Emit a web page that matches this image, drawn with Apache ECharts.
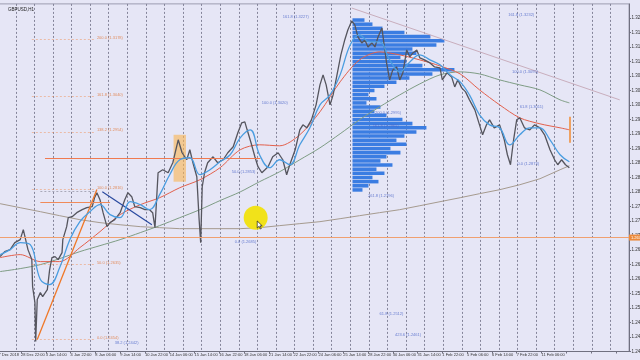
<!DOCTYPE html>
<html><head><meta charset="utf-8">
<script src="https://cdn.jsdelivr.net/npm/echarts@6/dist/echarts.min.js"></script>
<style>html,body{margin:0;padding:0;background:#e6e6f6}#c{width:640px;height:360px}</style>
</head><body><div id="c"></div>
<script>
// time axis = H1 bar index (0 = 28 Dec 22:00)
const tickLabels = ["27 Dec 2018","28 Dec 22:00","3 Jan 14:00","4 Jan 22:00","8 Jan 06:00","9 Jan 14:00","10 Jan 22:00","14 Jan 06:00","15 Jan 14:00","16 Jan 22:00","18 Jan 06:00","21 Jan 14:00","22 Jan 22:00","24 Jan 06:00","25 Jan 14:00","28 Jan 22:00","30 Jan 06:00","31 Jan 14:00","1 Feb 22:00","5 Feb 06:00","6 Feb 14:00","7 Feb 22:00","11 Feb 06:00"];

const priceBars = [-27,-21,-14,-8,-1,3,5,9,14,15,18,19,21,25,28,34,37,40,44,48,53,54,59,61,66,72,79,85,92,95,98,102,106,111,115,121,128,134,138,143,147,154,160,166,170,173,176,177,183,190,196,203,208,214,218,222,227,230,232,234,237,241,248,254,261,267,274,280,285,289,292,297,302,306,311,315,319,325,332,338,343,347,354,360,364,369,375,381,386,390,394,399,403,408,413,418,422,427,431,435,440,444,448,453,457,461,466,468,472,476,480,485,489,493,498,502,506,511,515,521,528,534,541,544,550,556,560,564,569,574,579,586,592,596,601,605,611,618,624,628,632,636,640,644,650,657,663,670,676,683,689,693,698,703,708];
const priceVals = [1.26540,1.26661,1.26709,1.26878,1.26950,1.27191,1.27143,1.26709,1.26468,1.25817,1.25431,1.24492,1.25504,1.25671,1.25576,1.25744,1.26227,1.26516,1.26540,1.26468,1.26637,1.26950,1.27263,1.27480,1.27504,1.27601,1.27673,1.27721,1.27745,1.27962,1.28083,1.27914,1.27601,1.27263,1.27360,1.27432,1.27601,1.27914,1.28083,1.27987,1.27745,1.27721,1.27673,1.27673,1.27601,1.27239,1.28227,1.28565,1.28637,1.28565,1.28806,1.29360,1.29047,1.28878,1.29119,1.28806,1.28469,1.27432,1.26878,1.28227,1.28565,1.28806,1.28950,1.28806,1.28878,1.29047,1.29191,1.29529,1.29770,1.29794,1.29601,1.29288,1.28950,1.28710,1.28565,1.28637,1.28710,1.28950,1.29047,1.28878,1.28517,1.28758,1.29119,1.29601,1.29721,1.29649,1.29842,1.30203,1.30685,1.30927,1.30685,1.30203,1.30444,1.30927,1.31409,1.31770,1.32011,1.32228,1.32132,1.31842,1.31698,1.31770,1.31601,1.31698,1.31601,1.31842,1.32059,1.31770,1.31216,1.30806,1.31047,1.31119,1.30806,1.30975,1.31529,1.31360,1.31457,1.31529,1.31336,1.31288,1.31216,1.31119,1.31095,1.30806,1.30975,1.30878,1.30637,1.30806,1.30613,1.30517,1.30324,1.30083,1.29721,1.29481,1.29721,1.29842,1.29649,1.29721,1.29360,1.28999,1.28758,1.29360,1.29842,1.29890,1.29649,1.29601,1.29721,1.29649,1.29481,1.29119,1.28878,1.28758,1.28878,1.28758,1.28686];

const fastBars = [-27,-14,-1,12,25,37,50,63,76,89,102,115,128,141,154,166,179,192,205,218,231,244,257,270,283,296,308,321,334,347,360,373,386,399,412,425,437,450,463,476,489,502,515,528,541,554,567,579,592,605,618,631,644,657,670,683,696,708];
const fastMA = [1.26589,1.26709,1.26878,1.26830,1.25986,1.25865,1.26275,1.26950,1.27384,1.27625,1.27793,1.27553,1.27480,1.27866,1.27793,1.27673,1.28035,1.28517,1.28878,1.28926,1.28517,1.28637,1.28830,1.28999,1.29408,1.29601,1.28999,1.28686,1.28878,1.28758,1.29239,1.29649,1.30203,1.30444,1.30927,1.31649,1.31891,1.31722,1.31722,1.31288,1.30999,1.31240,1.31409,1.31288,1.31169,1.30927,1.30758,1.30444,1.29963,1.29721,1.29649,1.29239,1.29481,1.29649,1.29649,1.29360,1.28999,1.28830];

const slowBars = [-27,-1,25,50,76,102,128,154,179,205,231,257,283,308,334,360,386,412,437,463,489,515,541,567,592,618,644,670,696,708];
const redMA = [1.26516,1.26589,1.26420,1.26420,1.26757,1.27143,1.27553,1.27793,1.27962,1.28203,1.28396,1.28686,1.29119,1.29239,1.29215,1.29481,1.30035,1.30758,1.31288,1.31481,1.31409,1.31288,1.31143,1.30950,1.30565,1.30203,1.29890,1.29746,1.29649,1.29601];
const greenMA = [1.26179,1.26251,1.26347,1.26492,1.26661,1.26805,1.26950,1.27119,1.27288,1.27480,1.27673,1.27893,1.28102,1.28348,1.28589,1.28878,1.29166,1.29505,1.29842,1.30155,1.30444,1.30710,1.30927,1.30999,1.30950,1.30806,1.30685,1.30565,1.30324,1.30251];
const longMA = [1.27818,1.27721,1.27625,1.27528,1.27432,1.27360,1.27309,1.27263,1.27239,1.27215,1.27215,1.27215,1.27215,1.27239,1.27288,1.27336,1.27384,1.27456,1.27528,1.27601,1.27673,1.27769,1.27866,1.27962,1.28059,1.28155,1.28275,1.28420,1.28637,1.28734];

// volume profile (bin top price, volume)
const profileStartBar = 428;
const profileLevels = [1.3230,1.3220,1.3210,1.3200,1.3190,1.3180,1.3170,1.3160,1.3150,1.3140,1.3130,1.3120,1.3110,1.3100,1.3090,1.3080,1.3070,1.3060,1.3050,1.3040,1.3030,1.3020,1.3010,1.3000,1.2990,1.2980,1.2970,1.2960,1.2950,1.2940,1.2930,1.2920,1.2910,1.2900,1.2890,1.2880,1.2870,1.2860,1.2850,1.2840,1.2830,1.2820];
const profileVolumes = [12,20,30,52,78,92,84,60,64,48,54,70,102,80,57,44,32,22,16,24,14,28,22,34,50,60,74,64,52,44,54,38,48,34,28,40,24,32,20,26,16,10];

// Fibonacci labels
const fibOrangeBar = 98;
const fibOrangeLevels = [1.3178,1.3040,1.2954,1.2816,1.2635,1.2454];
const fibOrangeText = ["200.0 (1.3178)","161.8 (1.3040)","138.2 (1.2954)","100.0 (1.2816)","50.0 (1.2635)","0.0 (1.2454)"];
const fibBlueBars = [338,311,272,276,629,634,644,641,448,457,454,463,483,121];
const fibBlueLevels = [1.3227,1.3020,1.2853,1.2685,1.3232,1.3095,1.3011,1.2873,1.2796,1.2995,1.2965,1.2512,1.2461,1.2442];
const fibBlueText = ["161.8 (1.3227)","100.0 (1.3020)","50.0 (1.2853)","0.0 (1.2685)","161.8 (1.3232)","100.0 (1.3095)","61.8 (1.3011)","0.0 (1.2873)","261.8 (1.2796)","200.0 (1.2995)","161.8 (1.2965)","61.8 (1.2512)","423.6 (1.2461)","38.2 (1.2442)"];

const bidPrice = 1.28686;
const alertPrice = 1.26734;

const pair = (xs, ys) => xs.map((x, i) => [x, ys[i]]);
const FONT = 'Liberation Sans';

const chart = echarts.init(document.getElementById('c'), null, {renderer: 'canvas'});

const trendLines = [
  [{coord:[21,1.2454], lineStyle:{color:'#f07828',width:1.3,type:'solid'}}, {coord:[98,1.2816]}],
  [{coord:[105,1.28107], lineStyle:{color:'#2a4aa0',width:1.2,type:'solid'}}, {coord:[169,1.27309]}],
  [{coord:[427,1.32541], lineStyle:{color:'#c9aebd',width:1,type:'solid'}}, {coord:[773,1.30324]}],
  [{coord:[31,1.2892], lineStyle:{color:'#f07a50',width:1,type:'solid'}}, {coord:[309,1.2892]}],
  [{coord:[25,1.27842], lineStyle:{color:'#f08a5a',width:1,type:'solid'}}, {coord:[115,1.27842]}],
  [{coord:[25,1.28107], lineStyle:{color:'#9a9aaa',width:0.8,type:[2,2]}}, {coord:[96,1.28107]}],
  [{coord:[708,1.29914], lineStyle:{color:'#f08a30',width:1.5,type:'solid'}}, {coord:[708,1.29288]}]
].concat(fibOrangeLevels.map(l => [{coord:[14,l], lineStyle:{color:'rgba(240,140,80,0.6)',width:0.8,type:[2,2]}}, {coord:[96,l]}]));

const option = {
  animation: false,
  backgroundColor: '#e6e6f6',
  textStyle: {fontFamily: FONT},
  title: {text: 'GBPUSD,H1', left: 3, top: 2, textStyle: {fontSize: 4.5, color: '#222', fontWeight: 'normal', fontFamily: FONT}},
  grid: [
    {left: -3.8, right: 11, top: 3.9, bottom: 8.5, containLabel: false, outerBoundsMode: 'none',
     show: true, borderColor: '#8a8aa0', borderWidth: 0.8, backgroundColor: 'transparent'},
    {left: -2.77, right: 11, top: 3.9, bottom: 8.5, containLabel: false, outerBoundsMode: 'none'}
  ],
  xAxis: [
    {type: 'value', gridIndex: 0, min: -32, max: 785, interval: 32,
     axisLine: {show: true, onZero: false, lineStyle: {color: '#707080'}},
     axisTick: {show: true, length: 2, lineStyle: {color: '#707080'}},
     axisLabel: {fontSize: 4, color: '#333', margin: 1.5, align: 'left', showMaxLabel: false,
       formatter: v => { const i = Math.round((v + 32) / 32); return tickLabels[i] || ''; }},
     splitLine: {show: false}},
    {type: 'value', gridIndex: 1, min: 0, max: 816, interval: 24,
     axisLine: {show: false, onZero: false}, axisTick: {show: false}, axisLabel: {show: false},
     splitLine: {show: true, lineStyle: {color: '#84849a', width: 1, type: [2, 2]}}}
  ],
  yAxis: [
    {type: 'value', gridIndex: 0, position: 'right', min: 1.2425, max: 1.3264, interval: 0.0035,
     axisLine: {show: true, onZero: false, lineStyle: {color: '#707080'}},
     axisTick: {show: true, length: 2, lineStyle: {color: '#707080'}},
     axisLabel: {fontSize: 4.5, color: '#333', margin: 2.5, showMaxLabel: false, formatter: v => v.toFixed(5)},
     splitLine: {show: false}},
    {type: 'value', gridIndex: 1, min: 0, max: 1, show: false}
  ],
  series: [
    {type: 'custom', name: 'profile', z: 1, xAxisIndex: 0, yAxisIndex: 0,
     data: profileLevels.map((p, i) => [profileStartBar, p, profileVolumes[i]]),
     encode: {x: 0, y: 1},
     renderItem: (params, api) => {
       const b = api.value(0), p = api.value(1), v = api.value(2);
       const s = api.coord([b, p]);
       const e = api.coord([b + v * 1.29, p - 0.001]);
       return {type: 'rect', shape: {x: s[0], y: s[1] + 0.3, width: e[0] - s[0], height: e[1] - s[1] - 0.6},
               style: {fill: '#3b7de2'}};
     }},
    {type: 'line', name: 'MA long', data: pair(slowBars, longMA), showSymbol: false, symbol: 'none', z: 2,
     lineStyle: {color: '#a59a8e', width: 1}},
    {type: 'line', name: 'MA green', data: pair(slowBars, greenMA), showSymbol: false, symbol: 'none', smooth: 0.3, z: 2,
     lineStyle: {color: '#7e9c84', width: 1}},
    {type: 'line', name: 'MA red', data: pair(slowBars, redMA), showSymbol: false, symbol: 'none', smooth: 0.3, z: 3,
     lineStyle: {color: '#e2604c', width: 1}},
    {type: 'line', name: 'price', data: pair(priceBars, priceVals), showSymbol: false, symbol: 'none', z: 4,
     lineStyle: {color: '#55555e', width: 1.3},
     markLine: {silent: true, symbol: 'none', animation: false,
       data: [
         {yAxis: alertPrice, lineStyle: {color: '#f0a070', width: 1, type: 'solid'},
          label: {show: true, position: 'end', distance: 0, formatter: alertPrice.toFixed(5), fontSize: 4, color: '#fff', backgroundColor: '#ec8a3c', padding: [1, 2]}},
         {yAxis: bidPrice, lineStyle: {opacity: 0},
          label: {show: true, position: 'end', distance: 0, formatter: bidPrice.toFixed(5), fontSize: 4, color: '#fff', backgroundColor: '#000', padding: [1, 2]}}
       ]},
     markArea: {silent: true, itemStyle: {color: 'rgba(250,180,80,0.6)'},
       data: [[{coord: [197, 1.29481]}, {coord: [213, 1.28348]}]]}},
    {type: 'line', name: 'MA fast', data: pair(fastBars, fastMA), showSymbol: false, symbol: 'none', smooth: 0.4, z: 5,
     lineStyle: {color: '#4a9de0', width: 1.3}},
    {type: 'scatter', name: 'fibOrange', z: 6, symbolSize: 0,
     data: fibOrangeLevels.map((l, i) => [fibOrangeBar, l, fibOrangeText[i]]),
     label: {show: true, position: 'right', distance: 0, offset: [0, -2], fontSize: 4, color: '#e2783a', formatter: p => p.data[2]},
     markLine: {silent: true, symbol: ['none', 'none'], label: {show: false}, data: trendLines},
     markPoint: {silent: true, data: [
       {coord: [303, 1.27480], symbol: 'circle', symbolSize: 24, itemStyle: {color: '#f1e21a'}, label: {show: false}},
       {coord: [305, 1.27400], symbol: 'path://M0,0 L0,16 L4,12 L7,18 L9,17 L6,11 L11,11 Z', symbolSize: [5, 8], symbolOffset: [2.5, 4],
        itemStyle: {color: '#fff', borderColor: '#000', borderWidth: 0.6}, label: {show: false}}
     ]}},
    {type: 'scatter', name: 'fibBlue', z: 6, symbolSize: 0,
     data: fibBlueLevels.map((l, i) => [fibBlueBars[i], l, fibBlueText[i]]),
     label: {show: true, position: 'right', distance: 0, offset: [0, -2], fontSize: 4, color: '#4a64c8', formatter: p => p.data[2]}}
  ]
};
chart.setOption(option);
</script>
</body></html>
